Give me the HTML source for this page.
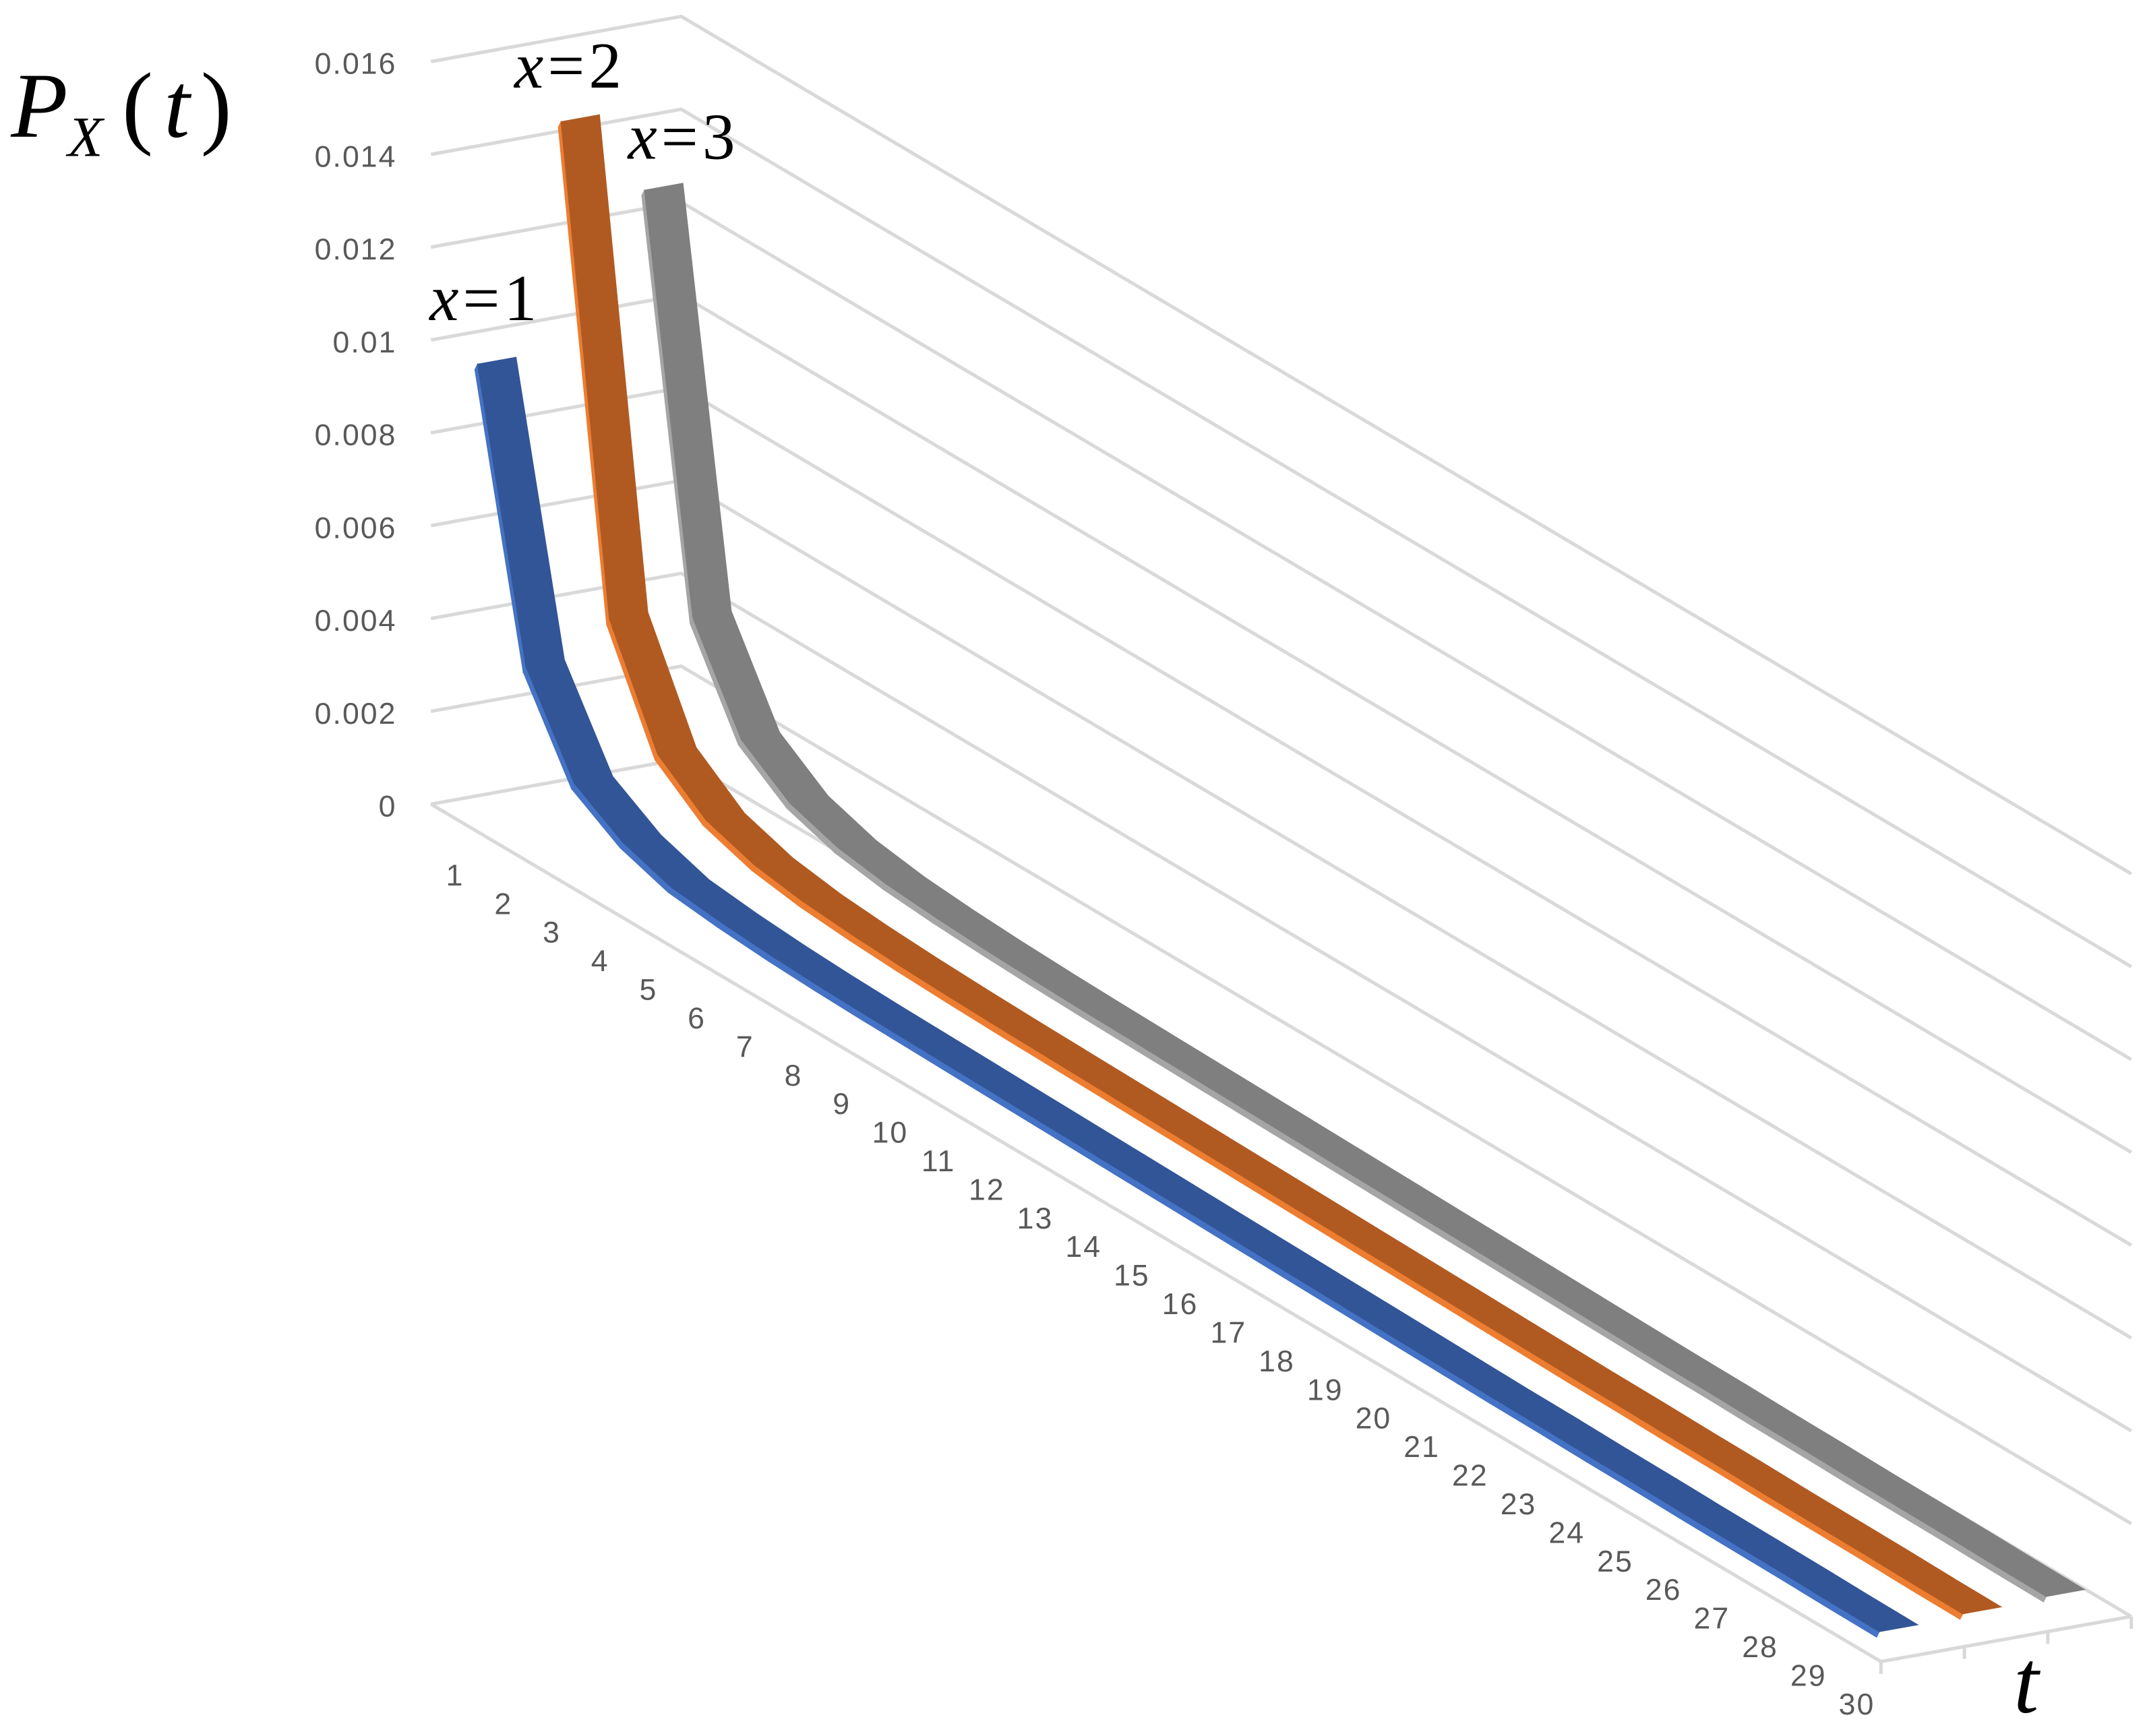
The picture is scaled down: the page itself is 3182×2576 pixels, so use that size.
<!DOCTYPE html>
<html><head><meta charset="utf-8"><style>
html,body{margin:0;padding:0;background:#fff;}
svg{display:block;}
.tk{font-family:"Liberation Sans",sans-serif;font-size:22px;fill:#595959;letter-spacing:1px;}
.mth{font-family:"Liberation Serif",serif;fill:#000;}
</style></head><body>
<svg id="chart" width="3182" height="2576" viewBox="0 0 1568 1269.4" xmlns="http://www.w3.org/2000/svg">
<g id="grid"></g>
<g id="ylabels"></g>
<g id="xlabels"></g>
<g id="series"></g>
<text class="mth" x="8" y="100" font-size="68" font-style="italic">P<tspan font-size="42" dy="14">X</tspan><tspan dy="-14" dx="14" font-style="normal">(</tspan><tspan dx="8">t</tspan><tspan dx="8" font-style="normal">)</tspan></text>
<text class="mth" x="1472" y="1252" font-size="66" font-style="italic">t</text>
<text class="mth" x="314" y="234" font-size="48"><tspan font-style="italic">x</tspan><tspan dx="3">=</tspan><tspan dx="3">1</tspan></text>
<text class="mth" x="376" y="64" font-size="48"><tspan font-style="italic">x</tspan><tspan dx="3">=</tspan><tspan dx="3">2</tspan></text>
<text class="mth" x="459" y="116" font-size="48"><tspan font-style="italic">x</tspan><tspan dx="3">=</tspan><tspan dx="3">3</tspan></text>
</svg>
<script>
const categories = [1,2,3,4,5,6,7,8,9,10,11,12,13,14,15,16,17,18,19,20,21,22,23,24,25,26,27,28,29,30];
const yTicks = [0,0.002,0.004,0.006,0.008,0.01,0.012,0.014,0.016];
const yTickLabels = ["0","0.002","0.004","0.006","0.008","0.01","0.012","0.014","0.016"];
const seriesNames = ["x=1","x=2","x=3"];
const blueValues = [0.0097,0.0038,0.0019,0.00125,0.0009,0.00078,0.0007,0.00065,0.00062,0.0006,0.00058,0.00056,0.00054,0.00052,0.0005,0.00048,0.00046,0.00044,0.00042,0.0004,0.00038,0.00036,0.00035,0.00033,0.00032,0.0003,0.00029,0.00028,0.00026,0.00025];
const orangeValues = [0.0146,0.0045,0.0022,0.0014,0.00105,0.00088,0.00079,0.00073,0.00069,0.00066,0.00064,0.00062,0.0006,0.00058,0.00056,0.00054,0.00052,0.0005,0.00048,0.00046,0.00044,0.00042,0.00041,0.00039,0.00038,0.00036,0.00035,0.00034,0.00032,0.00031];
const grayValues = [0.0128,0.0042,0.0022,0.00145,0.0011,0.00093,0.00084,0.00078,0.00074,0.00071,0.00069,0.00067,0.00065,0.00063,0.00061,0.00059,0.00057,0.00055,0.00053,0.00051,0.00049,0.00047,0.00046,0.00044,0.00043,0.00041,0.0004,0.00039,0.00037,0.00036];

const NS="http://www.w3.org/2000/svg";
const X0=315,Y0=588,CW=1060,CH=627,DW=183,DH=33,VH=543,VMAX=0.016,NC=30,ND=3;
function P(c,d,v){return [X0+c/NC*CW+d/ND*DW, Y0+c/NC*CH-d/ND*DH-v/VMAX*VH];}
function mk(tag,parent){const e=document.createElementNS(NS,tag);parent.appendChild(e);return e;}
function pts(a){return a.map(p=>p[0].toFixed(2)+","+p[1].toFixed(2)).join(" ");}

const grid=document.getElementById('grid');
yTicks.forEach((v,i)=>{
  const l=mk('polyline',grid);
  
  
  l.setAttribute('points',pts([P(0,0,v),P(0,ND,v),P(NC,ND,v)]));
  l.setAttribute('fill','none');l.setAttribute('stroke','#d9d9d9');l.setAttribute('stroke-width','2.5');
});
const floor=mk('polyline',grid);


floor.setAttribute('points',pts([P(0,0,0),P(NC,0,0),P(NC,ND,0)]));
floor.setAttribute('fill','none');floor.setAttribute('stroke','#d9d9d9');floor.setAttribute('stroke-width','2.5');
for(let d=0;d<=ND;d++){
  const a=P(NC,d,0);const t=mk('line',grid);
  
  
  t.setAttribute('x1',a[0]);t.setAttribute('y1',a[1]);t.setAttribute('x2',a[0]);t.setAttribute('y2',a[1]+9);
  t.setAttribute('stroke','#d9d9d9');t.setAttribute('stroke-width','2.5');
}
const yl=document.getElementById('ylabels');
yTicks.forEach((v,i)=>{
  const a=P(0,0,v);const t=mk('text',yl);
  
  
  t.setAttribute('class','tk');t.setAttribute('x',290);t.setAttribute('y',a[1]+9);t.setAttribute('text-anchor','end');
  t.textContent=yTickLabels[i];
});
const xl=document.getElementById('xlabels');
categories.forEach((c,i)=>{
  const a=P(i+0.5,0,0);const t=mk('text',xl);
  
  
  t.setAttribute('class','tk');t.setAttribute('x',a[0]);t.setAttribute('y',a[1]+49);t.setAttribute('text-anchor','middle');
  t.textContent=c;
});
const sg=document.getElementById('series');
const defs=[[grayValues,2.5,'#7f7f7f','#a5a5a5','series-x3'],[orangeValues,1.5,'#b05a22','#ed7d31','series-x2'],[blueValues,0.5,'#325597','#4472c4','series-x1']];
const HW=0.23;
defs.forEach(([vals,d,dark,light,name])=>{
  const g=mk('g',sg);
  
  
  for(let i=0;i<vals.length-1;i++){
    const f1=P(i+0.5,d-HW,vals[i]),f2=P(i+1.5,d-HW,vals[i+1]);
    const b1=P(i+0.5,d+HW,vals[i]),b2=P(i+1.5,d+HW,vals[i+1]);
    const fr=mk('polygon',g);
    
    
    fr.setAttribute('points',pts([f1,f2,[f2[0]-2,f2[1]+4],[f1[0]-2,f1[1]+4]]));
    fr.setAttribute('fill',light);fr.setAttribute('stroke',light);fr.setAttribute('stroke-width','0.6');
    const tp=mk('polygon',g);
    
    
    tp.setAttribute('points',pts([f1,f2,b2,b1]));
    tp.setAttribute('fill',dark);tp.setAttribute('stroke',dark);tp.setAttribute('stroke-width','0.6');
  }
});
</script>
</body></html>
